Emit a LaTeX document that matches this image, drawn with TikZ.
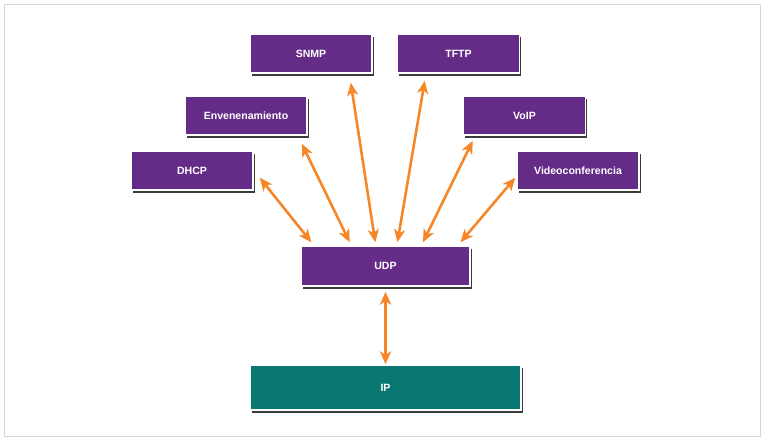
\documentclass[tikz,border=0pt]{standalone}
\usepackage{fontspec}
\setmainfont{Liberation Sans}
\usetikzlibrary{arrows.meta,calc,shadows}
\definecolor{capa}{RGB}{100,44,135}
\definecolor{capared}{RGB}{10,120,114}
\definecolor{flecha}{RGB}{247,134,40}
\definecolor{marco}{RGB}{215,215,215}

\tikzset{
  proto/.style={rectangle,fill=capa,draw=white,line width=1.3pt,text=white,
    font=\fontsize{9}{10}\selectfont\bfseries,
    minimum width=3.66cm,minimum height=1.17cm,inner sep=0pt,
    drop shadow={shadow xshift=0.05cm,shadow yshift=-0.1cm,fill=black!85,opacity=0.9}},
  enlace/.style={draw=flecha,line width=2.2pt,
    {Stealth[length=11pt,width=9.5pt,inset=3pt]}-{Stealth[length=11pt,width=9.5pt,inset=3pt]}}
}

\begin{document}
\begin{tikzpicture}[x=0.03cm,y=-0.03cm]
% fondo y marco
\fill[white] (0,0) rectangle (768,441);
\draw[marco,line width=0.6pt] (4,4) rectangle (760,436);

% capa de aplicacion
\node[proto] (snmp) at (311,53.5) {SNMP};
\node[proto] (tftp) at (458.5,53.5) {TFTP};
\node[proto] (env) at (246,115.5) {Envenenamiento};
\node[proto] (voip) at (524.5,115.5) {VoIP};
\node[proto] (dhcp) at (192,170.5) {DHCP};
\node[proto] (video) at (578,170.5) {Videoconferencia};

% transporte y red
\node[proto,minimum width=5.07cm,minimum height=1.2cm] (udp) at (385.5,266) {UDP};
\node[proto,fill=capared,minimum width=8.13cm,minimum height=1.35cm] (ip) at (385.5,387.5) {IP};

% flechas
\draw[enlace] ($(udp.north west)!0.065!(udp.north east)+(0,-3)$) -- ($(dhcp.south east)+(6,-13)$);
\draw[enlace] ($(udp.north west)!0.29!(udp.north east)+(0,-3)$) -- ($(env.south east)+(-6,8)$);
\draw[enlace] ($(udp.north west)!0.44!(udp.north east)+(0,-3)$) -- ($(snmp.south east)+(-22,9)$);
\draw[enlace] ($(udp.north west)!0.57!(udp.north east)+(0,-3)$) -- ($(tftp.south west)+(28,7)$);
\draw[enlace] ($(udp.north west)!0.72!(udp.north east)+(0,-3)$) -- ($(voip.south west)+(10,5)$);
\draw[enlace] ($(udp.north west)!0.94!(udp.north east)+(0,-3)$) -- ($(video.south west)+(-1,-13)$);
\draw[enlace] ($(udp.south)+(0,5)$) -- (ip.north);
\end{tikzpicture}
\end{document}
